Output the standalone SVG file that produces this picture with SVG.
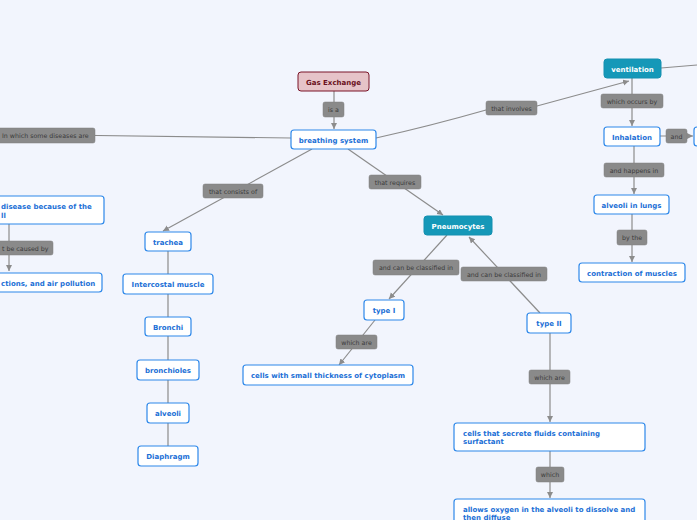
<svg xmlns="http://www.w3.org/2000/svg" width="697" height="520" viewBox="0 0 697 520">
<defs>
<style>
.bg{fill:#f2f5fd}
.n rect{fill:#ffffff;stroke:#2d88ea;stroke-width:1.2}
.n text{font-family:"DejaVu Sans",Verdana,sans-serif;font-weight:bold;font-size:7px;fill:#1b6fd6;text-anchor:middle}
.n text.l{text-anchor:start}
.t rect{fill:#1598b8;stroke:#1590b0;stroke-width:1}
.t text{font-family:"DejaVu Sans",Verdana,sans-serif;font-weight:bold;font-size:7px;fill:#ffffff;text-anchor:middle}
.g rect{fill:#e6c3c8;stroke:#7a1428;stroke-width:1}
.g text{font-family:"DejaVu Sans",Verdana,sans-serif;font-weight:bold;font-size:7px;fill:#6a1020;text-anchor:middle}
.c path{fill:none;stroke:#8c8c8c;stroke-width:1.2}
.lb rect{fill:#8a8a8a;stroke:#7e7e7e;stroke-width:0.5}
.lb text{font-family:"DejaVu Sans",Verdana,sans-serif;font-size:6.3px;fill:#3a3a3a;text-anchor:middle}
.lb text.l{text-anchor:start}
</style>
<marker id="ah" markerWidth="8" markerHeight="8" refX="6" refY="3" orient="auto" markerUnits="userSpaceOnUse">
<path d="M0,0 L6,3 L0,6 Z" fill="#8c8c8c"/>
</marker>
</defs>
<rect class="bg" x="0" y="0" width="697" height="520"/>

<g id="connectors" class="c">
<path d="M334,91 L334,129" marker-end="url(#ah)"/>
<path d="M291,138 L60,135"/>
<path d="M376,138 Q430,126 486,110 L537,106 L629,81" marker-end="url(#ah)"/>
<path d="M661,68 L697,65"/>
<path d="M632,78 L632,126" marker-end="url(#ah)"/>
<path d="M660,136 L693,136" marker-end="url(#ah)"/>
<path d="M634,146 L634,194" marker-end="url(#ah)"/>
<path d="M632,214 L632,262" marker-end="url(#ah)"/>
<path d="M9,224 L9,271" marker-end="url(#ah)"/>
<path d="M312,149 L163,231" marker-end="url(#ah)"/>
<path d="M168,251 L168,274 M168,294 L168,317 M168,336 L168,360 M168,380 L168,403 M168,423 L168,446"/>
<path d="M348,149 L443,215" marker-end="url(#ah)"/>
<path d="M447,235 L389,299" marker-end="url(#ah)"/>
<path d="M540,313 L469,237" marker-end="url(#ah)"/>
<path d="M375,320 L339,365" marker-end="url(#ah)"/>
<path d="M550,333 L550,422" marker-end="url(#ah)"/>
<path d="M550,451 L550,498" marker-end="url(#ah)"/>
<g class="lb">
<rect x="323" y="102" width="21" height="15" rx="2"/><text x="333.5" y="112">is a</text>
<rect x="-6" y="128" width="101" height="15" rx="2"/><text class="l" x="2" y="138">In which some diseases are</text>
<rect x="486" y="101" width="51" height="14" rx="2"/><text x="511.5" y="111">that involves</text>
<rect x="601" y="94" width="62" height="14" rx="2"/><text x="632" y="104">which occurs by</text>
<rect x="666" y="129" width="21" height="14" rx="2"/><text x="676.5" y="139">and</text>
<rect x="604" y="163" width="60" height="14" rx="2"/><text x="634" y="173">and happens in</text>
<rect x="617" y="230" width="30" height="15" rx="2"/><text x="632" y="240">by the</text>
<rect x="-10" y="241" width="63" height="14" rx="2"/><text class="l" x="2" y="251">t be caused by</text>
<rect x="203" y="184" width="60" height="14" rx="2"/><text x="233" y="194">that consists of</text>
<rect x="369" y="175" width="52" height="14" rx="2"/><text x="395" y="185">that requires</text>
<rect x="373" y="260" width="86" height="15" rx="2"/><text x="416" y="270">and can be classified in</text>
<rect x="461" y="267" width="86" height="14" rx="2"/><text x="504" y="277">and can be classified in</text>
<rect x="336" y="335" width="41" height="14" rx="2"/><text x="356.5" y="345">which are</text>
<rect x="529" y="370" width="41" height="14" rx="2"/><text x="549.5" y="380">which are</text>
<rect x="536" y="467" width="28" height="15" rx="2"/><text x="550" y="477">which</text>
</g>
</g>

<g id="gas-exchange" class="g"><rect x="298" y="72" width="71" height="19" rx="3"/><text x="333.5" y="84.5">Gas Exchange</text></g>
<g id="breathing-system" class="n"><rect x="291" y="130" width="85" height="19" rx="3"/><text x="333.5" y="142.5">breathing system</text></g>
<g id="ventilation" class="t"><rect x="604" y="59" width="57" height="19" rx="3"/><text x="632.5" y="71.5">ventilation</text></g>
<g id="inhalation" class="n"><rect x="604" y="127" width="56" height="19" rx="3"/><text x="632" y="139.5">Inhalation</text></g>
<g id="exhalation" class="n"><rect x="694" y="127" width="20" height="19" rx="3"/></g>
<g id="alveoli-lungs" class="n"><rect x="594" y="195" width="75" height="19" rx="3"/><text x="631.5" y="207.5">alveoli in lungs</text></g>
<g id="contraction" class="n"><rect x="579" y="263" width="106" height="19" rx="3"/><text x="632" y="275.5">contraction of muscles</text></g>
<g id="disease" class="n"><rect x="-10" y="196" width="114" height="28" rx="3"/><text class="l" x="1" y="208.5">disease because of the</text><text class="l" x="1" y="217.5">ll</text></g>
<g id="infections" class="n"><rect x="-10" y="273" width="112" height="19" rx="3"/><text class="l" x="1" y="285.5">ctions, and air pollution</text></g>
<g id="trachea" class="n"><rect x="145" y="232" width="46" height="19" rx="3"/><text x="168" y="244.5">trachea</text></g>
<g id="intercostal" class="n"><rect x="123" y="274" width="90" height="20" rx="3"/><text x="168" y="287">Intercostal muscle</text></g>
<g id="bronchi" class="n"><rect x="145" y="317" width="46" height="19" rx="3"/><text x="168" y="329.5">Bronchi</text></g>
<g id="bronchioles" class="n"><rect x="137" y="360" width="62" height="20" rx="3"/><text x="168" y="373">bronchioles</text></g>
<g id="alveoli" class="n"><rect x="147" y="403" width="42" height="20" rx="3"/><text x="168" y="416">alveoli</text></g>
<g id="diaphragm" class="n"><rect x="138" y="446" width="60" height="20" rx="3"/><text x="168" y="459">Diaphragm</text></g>
<g id="pneumocytes" class="t"><rect x="424" y="216" width="68" height="19" rx="3"/><text x="458" y="228.5">Pneumocytes</text></g>
<g id="type-1" class="n"><rect x="364" y="300" width="40" height="20" rx="3"/><text x="384" y="313">type I</text></g>
<g id="type-2" class="n"><rect x="527" y="313" width="44" height="20" rx="3"/><text x="549" y="326">type II</text></g>
<g id="thin-cells" class="n"><rect x="243" y="365" width="170" height="20" rx="3"/><text x="328" y="378">cells with small thickness of cytoplasm</text></g>
<g id="secrete-cells" class="n"><rect x="454" y="423" width="191" height="28" rx="3"/><text class="l" x="463" y="435.5">cells that secrete fluids containing</text><text class="l" x="463" y="444">surfactant</text></g>
<g id="allows-oxygen" class="n"><rect x="454" y="499" width="191" height="28" rx="3"/><text class="l" x="463" y="511.5">allows oxygen in the alveoli to dissolve and</text><text class="l" x="463" y="519.5">then diffuse</text></g>
</svg>
